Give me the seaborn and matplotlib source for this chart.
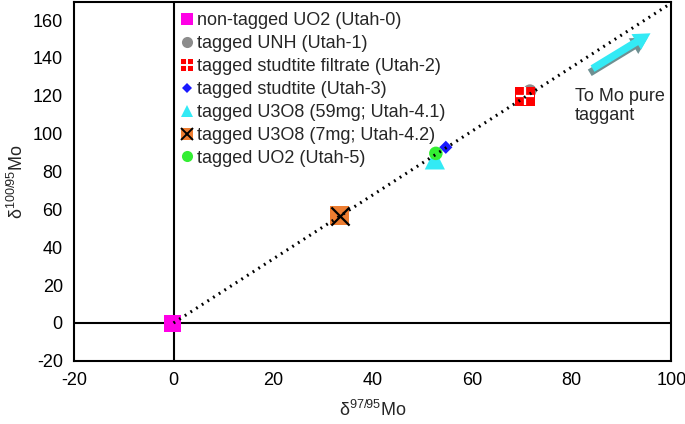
import matplotlib
matplotlib.use("Agg")
import matplotlib.pyplot as plt
import matplotlib.patheffects as pe
from matplotlib.lines import Line2D
from matplotlib.legend_handler import HandlerTuple
import seaborn as sns

# sample labels and measured deltas
labels = ["non-tagged UO2 (Utah-0)", "tagged UNH (Utah-1)",
          "tagged studtite filtrate (Utah-2)", "tagged studtite (Utah-3)",
          "tagged U3O8 (59mg; Utah-4.1)", "tagged U3O8 (7mg; Utah-4.2)",
          "tagged UO2 (Utah-5)"]
d97 = [-0.3, 71.6, 70.6, 54.7, 52.5, 33.4, 52.7]
d100 = [-0.5, 122.6, 119.8, 92.8, 86.4, 56.7, 89.6]

# mixing line towards pure taggant
line_x = [0, 100]
line_y = [0, 169]

x_ticks = [-20, 0, 20, 40, 60, 80, 100]
y_ticks = [-20, 0, 20, 40, 60, 80, 100, 120, 140, 160]

sns.set_theme(style="white")
plt.rcParams["font.family"] = ["Liberation Sans", "DejaVu Sans"]
plt.rcParams["mathtext.default"] = "regular"
plt.rcParams["axes.unicode_minus"] = False

fig = plt.figure(figsize=(6.85, 4.24), dpi=100)
ax = fig.add_axes([0.108, 0.149, 0.872, 0.846])

ax.axhline(0, color="black", lw=1.5, zorder=1)
ax.axvline(0, color="black", lw=1.5, zorder=1)
sns.lineplot(x=line_x, y=line_y, ax=ax, color="black", lw=2.2,
             linestyle=(0, (0.6, 1.6)), zorder=5)

# (marker, color, size, overlay marker, overlay color, zorder)
styles = [
    ("s", "#ff00e6", 150, None, None, 3),
    ("o", "#8c8c8c", 90, None, None, 2),
    ("s", "#ff0000", 190, "+", "white", 3),
    ("D", "#1a1aff", 45, None, None, 3),
    ("^", "#33eaf5", 210, None, None, 3),
    ("s", "#ed7d31", 190, "x", "black", 3),
    ("o", "#33ee33", 95, None, None, 4),
]

handles = []
for i, (m, c, s, om, oc, z) in enumerate(styles):
    sns.scatterplot(x=[d97[i]], y=[d100[i]], ax=ax, marker=m, color=c, s=s,
                    edgecolor="none", linewidth=0, zorder=z)
    h = Line2D([], [], marker=m, color=c, ls="none", markersize=8 if m != "D" else 5.5,
               markeredgewidth=0)
    if om:
        ax.scatter([d97[i]], [d100[i]], marker=om, color=oc, s=s * 0.9,
                   linewidths=1.6, zorder=z + 0.5)
        ho = Line2D([], [], marker=om, color=oc, ls="none", markersize=8,
                    markeredgewidth=1.4)
        handles.append((h, ho))
    else:
        handles.append(h)

ax.legend(handles, labels, loc="upper left", bbox_to_anchor=(0.16, 1.0),
          frameon=False, fontsize=13, handletextpad=0.15, labelspacing=0.33,
          handlelength=0.8, borderaxespad=0.15,
          handler_map={tuple: HandlerTuple(ndivide=1, pad=0)})

ax.annotate("", xy=(96.3, 153.8), xytext=(83.7, 133.6),
            arrowprops=dict(arrowstyle="simple,head_width=1.1,head_length=1.0,tail_width=0.45",
                            color="#33eaf5", lw=0,
                            path_effects=[pe.SimplePatchShadow(offset=(-2, -3), alpha=0.6),
                                          pe.Normal()]))
ax.text(80.6, 124, "To Mo pure\ntaggant", fontsize=13, va="top", ha="left",
        linespacing=1.1)

ax.set_xlim(-20, 100)
ax.set_ylim(-20, 169.5)
ax.set_xticks(x_ticks)
ax.set_yticks(y_ticks)
ax.tick_params(axis="both", length=0, labelsize=13, pad=8, colors="black")
ax.set_xlabel("δ$^{97/95}$Mo", fontsize=13, labelpad=8)
ax.set_ylabel("δ$^{100/95}$Mo", fontsize=13, labelpad=4)
for sp in ax.spines.values():
    sp.set_color("black")
    sp.set_linewidth(1.5)

fig.savefig("out.png", dpi=100)
